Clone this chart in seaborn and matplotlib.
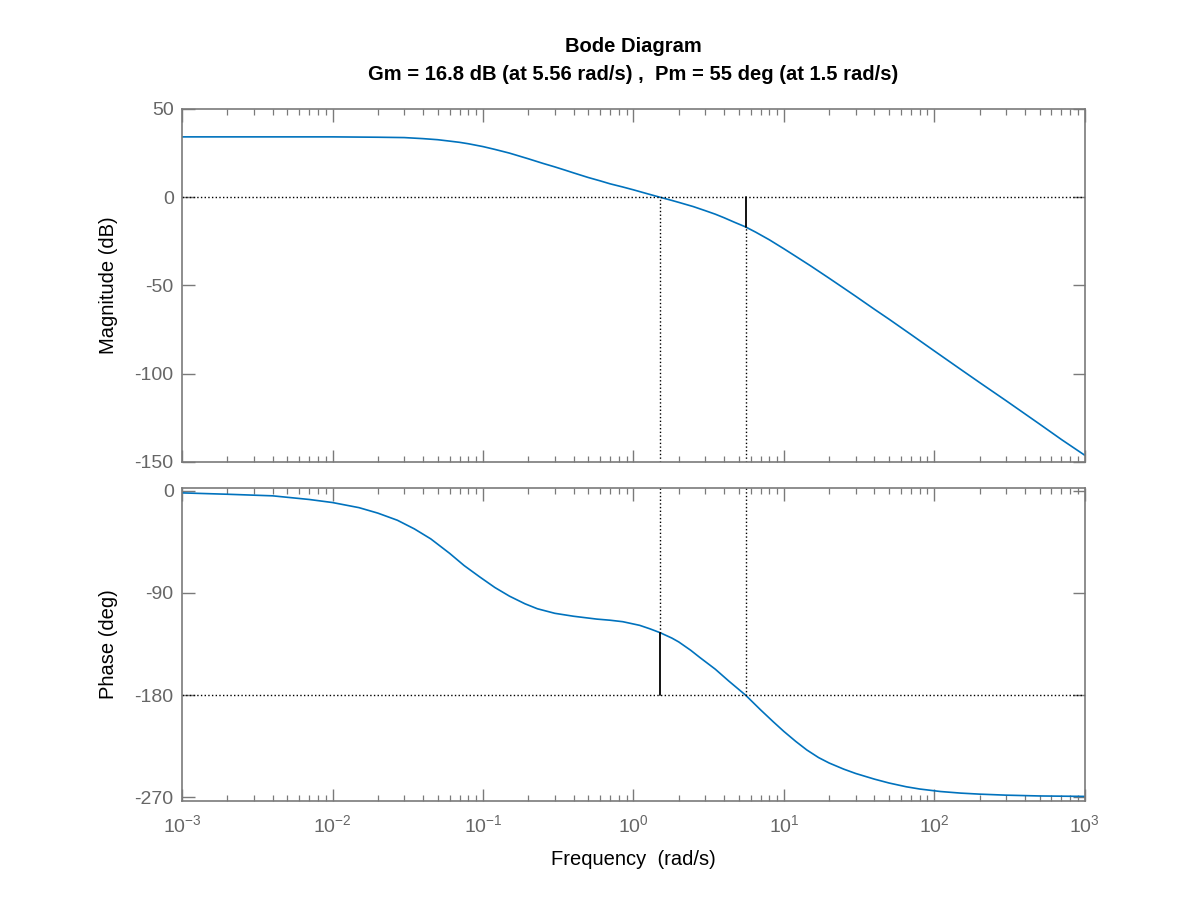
import numpy as np
import pandas as pd
import matplotlib
matplotlib.use("Agg")
import matplotlib.pyplot as plt
import seaborn as sns
from matplotlib.ticker import LogLocator, NullFormatter

# Magnitude curve (rad/s, dB)
mag_freq = [0.001, 0.003, 0.01, 0.02, 0.03, 0.04, 0.05, 0.06, 0.07, 0.08,
            0.1, 0.12, 0.15, 0.2, 0.25, 0.3, 0.35, 0.4, 0.5, 0.6,
            0.7, 0.85, 1.0, 1.2, 1.5, 1.8, 2.0, 2.5, 3.0, 3.5,
            4.0, 4.7, 5.56, 6.5, 8.0, 10.0, 12.0, 15.0, 20.0, 25.0,
            30.0, 40.0, 50.0, 70.0, 100.0, 150.0, 200.0, 300.0, 500.0, 700.0,
            1000.0]
mag_db = [34.2, 34.2, 34.2, 34.0, 33.8, 33.2, 32.6, 31.8, 31.1, 30.3,
          28.7, 27.1, 25.0, 21.8, 19.2, 17.2, 15.4, 13.8, 11.2, 9.3,
          7.6, 5.8, 4.2, 2.3, 0.0, -1.8, -2.9, -5.3, -7.6, -9.6,
          -11.6, -14.2, -16.8, -19.8, -24.1, -29.2, -33.5, -38.8, -45.9, -51.5,
          -56.1, -63.5, -69.1, -77.8, -87.1, -97.6, -105.0, -115.3, -128.5, -137.3,
          -146.2]

# Phase curve (rad/s, deg)
ph_freq = [0.001, 0.002, 0.004, 0.007, 0.01, 0.015, 0.02, 0.027, 0.035, 0.045,
           0.06, 0.075, 0.095, 0.12, 0.15, 0.19, 0.23, 0.3, 0.4, 0.57,
           0.7, 0.85, 1.1, 1.29, 1.5, 1.8, 2.0, 2.4, 2.77, 3.5,
           4.3, 5.56, 7.0, 8.5, 10.0, 12.0, 14.2, 17.0, 20.0, 25.0,
           30.0, 40.0, 50.0, 65.0, 80.0, 110.0, 150.0, 200.0, 300.0, 500.0,
           1000.0]
phase_deg = [-2.0, -3.2, -4.6, -7.8, -10.5, -15.0, -19.8, -26.1, -33.7, -42.5,
             -55.2, -66.0, -75.9, -85.3, -92.9, -99.6, -104.0, -108.0, -110.6, -113.1,
             -114.1, -115.4, -118.6, -121.7, -125.0, -129.8, -133.2, -140.5, -147.0, -157.2,
             -167.6, -180.0, -193.0, -203.5, -212.0, -220.8, -228.3, -235.0, -239.8, -245.2,
             -249.0, -254.0, -257.4, -260.7, -262.7, -264.9, -266.3, -267.2, -268.1, -268.8,
             -269.2]

gm_db = 16.8
wcg = 5.56
pm = 55
wcp = 1.5

title_txt = "Bode Diagram\nGm = 16.8 dB (at 5.56 rad/s) ,  Pm = 55 deg (at 1.5 rad/s)"

mag_df = pd.DataFrame({"freq": mag_freq, "mag": mag_db})
ph_df = pd.DataFrame({"freq": ph_freq, "phase": phase_deg})

sns.set_style("ticks")
plt.rcParams["font.family"] = ["Liberation Sans", "DejaVu Sans"]
plt.rcParams["axes.unicode_minus"] = False
plt.rcParams["mathtext.fontset"] = "custom"
plt.rcParams["mathtext.rm"] = "Liberation Sans"
plt.rcParams["mathtext.it"] = "Liberation Sans"

AX_GREY = "#7a7a7a"
LBL_GREY = "#666666"
LINE_BLUE = "#0072BD"

fig = plt.figure(figsize=(12, 9), dpi=100)
ax1 = fig.add_axes([0.1517, 0.4867, 0.7523, 0.3922])
ax2 = fig.add_axes([0.1517, 0.1103, 0.7523, 0.3471])

sns.lineplot(data=mag_df, x="freq", y="mag", ax=ax1, color=LINE_BLUE, linewidth=1.2, sort=False)
sns.lineplot(data=ph_df, x="freq", y="phase", ax=ax2, color=LINE_BLUE, linewidth=1.2, sort=False)

for ax in (ax1, ax2):
    ax.set_xscale("log")
    ax.set_xlim(1e-3, 1e3)
    ax.xaxis.set_major_locator(LogLocator(base=10, numticks=10))
    ax.xaxis.set_minor_locator(LogLocator(base=10, subs=np.arange(2, 10), numticks=20))
    ax.xaxis.set_minor_formatter(NullFormatter())
    for sp in ax.spines.values():
        sp.set_visible(True)
        sp.set_color(AX_GREY)
        sp.set_linewidth(1.2)
    ax.tick_params(which="both", direction="in", top=True, right=True,
                   color=AX_GREY, labelcolor=LBL_GREY, labelsize=14)
    ax.tick_params(which="major", length=9, width=1.0)
    ax.tick_params(which="minor", length=4.5, width=0.9)
    ax.tick_params(axis="x", pad=10)
    ax.tick_params(axis="y", pad=6)
    ax.set_facecolor("white")

# magnitude panel
ax1.set_ylim(-150, 50)
ax1.set_yticks([-150, -100, -50, 0, 50])
ax1.tick_params(axis="x", labelbottom=False)
ax1.set_xlabel("")
ax1.set_ylabel("Magnitude (dB)", fontsize=14.5, color="black")
ax1.axhline(0, color="black", linestyle=":", linewidth=1.0)
ax1.plot([wcp, wcp], [-150, 0], color="black", linestyle=":", linewidth=1.0)
ax1.plot([wcg, wcg], [-150, -gm_db], color="black", linestyle=":", linewidth=1.0)
ax1.plot([wcg, wcg], [0, -gm_db], color="black", linewidth=1.3)
ax1.set_title(title_txt, fontsize=14.5, fontweight="bold", color="black", pad=21, linespacing=1.6)

# phase panel
ax2.set_ylim(-273, 2)
ax2.set_yticks([-270, -180, -90, 0])
ax2.set_ylabel("Phase (deg)", fontsize=14.5, color="black")
ax2.set_xlabel("Frequency  (rad/s)", fontsize=14.5, color="black", labelpad=10)
ax2.axhline(-180, color="black", linestyle=":", linewidth=1.0)
ax2.plot([wcp, wcp], [2, pm - 180], color="black", linestyle=":", linewidth=1.0)
ax2.plot([wcp, wcp], [pm - 180, -180], color="black", linewidth=1.3)
ax2.plot([wcg, wcg], [2, -180], color="black", linestyle=":", linewidth=1.0)

# line the y labels up like the reference
ax1.yaxis.set_label_coords(-0.071, 0.5)
ax2.yaxis.set_label_coords(-0.071, 0.5)

fig.savefig("out.png", dpi=100, facecolor="white")
